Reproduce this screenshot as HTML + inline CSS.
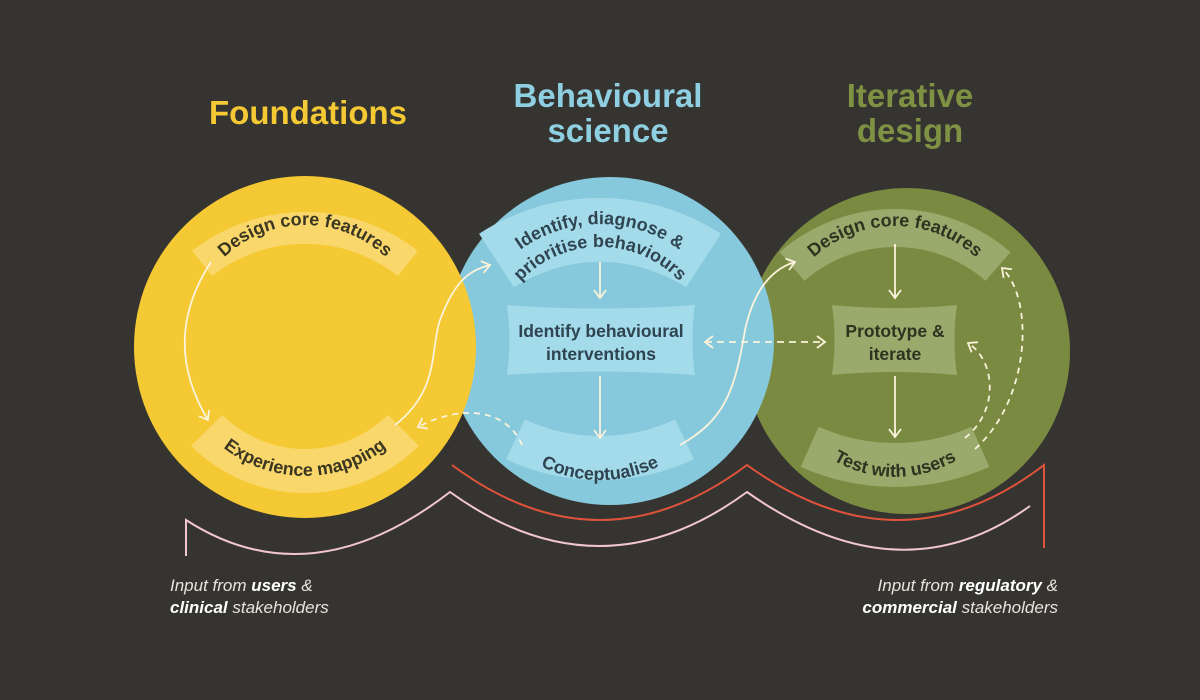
<!DOCTYPE html>
<html><head><meta charset="utf-8"><style>
html,body{margin:0;padding:0;background:#363431;}
svg{display:block}
text{font-family:"Liberation Sans",sans-serif;}
</style></head><body>
<svg width="1200" height="700" viewBox="0 0 1200 700" xmlns="http://www.w3.org/2000/svg">
<defs>
<marker id="ah" markerWidth="14" markerHeight="14" refX="10" refY="7" orient="auto" markerUnits="userSpaceOnUse">
<path d="M2,1 L10,7 L2,13" fill="none" stroke="#fbf3dc" stroke-width="1.8"/></marker>
<marker id="ahs" markerWidth="14" markerHeight="14" refX="4" refY="7" orient="auto" markerUnits="userSpaceOnUse">
<path d="M12,1 L4,7 L12,13" fill="none" stroke="#fbf3dc" stroke-width="1.8"/></marker>
<path id="yt" d="M199,292.5 A117,117 0 0 1 411,292.5"/>
<path id="yb" d="M185.4,399.8 A132,132 0 0 0 424.6,399.8"/>
<path id="bt1" d="M476.8,302.5 A136,136 0 0 1 723.2,302.5"/>
<path id="bt2" d="M501.2,309.9 A109,109 0 0 1 698.8,309.9"/>
<path id="bb" d="M479.5,403.3 A133,133 0 0 0 720.5,403.3"/>
<path id="gt" d="M786.3,295.2 A120,120 0 0 1 1003.7,295.2"/>
<path id="gb" d="M784.5,406.6 A122,122 0 0 0 1005.5,406.6"/>
</defs>
<rect width="1200" height="700" fill="#363431"/>
<!-- titles -->
<text x="308" y="124" font-size="33" font-weight="bold" fill="#f4c933" text-anchor="middle">Foundations</text>
<text x="608" y="107" font-size="33" font-weight="bold" fill="#8ecfe2" text-anchor="middle">Behavioural</text>
<text x="608" y="142" font-size="33" font-weight="bold" fill="#8ecfe2" text-anchor="middle">science</text>
<text x="910" y="107" font-size="33" font-weight="bold" fill="#7f9243" text-anchor="middle">Iterative</text>
<text x="910" y="142" font-size="33" font-weight="bold" fill="#7f9243" text-anchor="middle">design</text>
<!-- circles -->
<circle cx="907" cy="351" r="163" fill="#7a8a40"/>
<circle cx="610" cy="341" r="164" fill="#86c8dc"/>
<circle cx="305" cy="347" r="171" fill="#f4c933"/>
<!-- bands -->
<g fill="none" stroke-linecap="butt">
<path d="M202.1,263.4 A167,167 0 0 1 407.9,263.4" stroke="#f9d76a" stroke-width="32"/>
<path d="M206.7,430.3 A139,139 0 0 0 403.3,430.3" stroke="#f9d76a" stroke-width="44"/>
<path d="M496.5,260.6 A190,190 0 0 1 703.5,260.6" stroke="#a3dbea" stroke-width="64"/>
<path d="M515.5,439.3 A200,200 0 0 0 684.5,439.3" stroke="#a3dbea" stroke-width="44"/>
<path d="M792,266.5 A157,157 0 0 1 998,266.5" stroke="#9aa96c" stroke-width="38"/>
<path d="M809.6,446.8 A210,210 0 0 0 980.4,446.8" stroke="#9aa96c" stroke-width="44"/>
</g>
<!-- middle boxes -->
<path d="M507,305 Q601,312 695,305 Q690,340 695,375 Q601,368 507,375 Q512,340 507,305Z" fill="#a3dbea"/>
<path d="M832,305 Q895,311 957,305 Q952,340 957,375 Q895,369 832,375 Q837,340 832,305Z" fill="#9aa96c"/>
<!-- band texts -->
<g font-size="18" font-weight="bold" fill="#3b3622" text-anchor="middle">
<text><textPath href="#yt" startOffset="50%">Design core features</textPath></text>
<text><textPath href="#yb" startOffset="50%">Experience mapping</textPath></text>
<text fill="#2f4450"><textPath href="#bt1" startOffset="50%">Identify, diagnose &amp;</textPath></text>
<text fill="#2f4450"><textPath href="#bt2" startOffset="50%">prioritise behaviours</textPath></text>
<text fill="#2f4450"><textPath href="#bb" startOffset="50%">Conceptualise</textPath></text>
<text fill="#2e3320"><textPath href="#gt" startOffset="50%">Design core features</textPath></text>
<text fill="#2e3320"><textPath href="#gb" startOffset="50%">Test with users</textPath></text>
</g>
<text x="601" y="337" font-size="17.5" font-weight="bold" fill="#2f4450" text-anchor="middle">Identify behavioural</text>
<text x="601" y="360" font-size="17.5" font-weight="bold" fill="#2f4450" text-anchor="middle">interventions</text>
<text x="895" y="337" font-size="17.5" font-weight="bold" fill="#2e3320" text-anchor="middle">Prototype &amp;</text>
<text x="895" y="360" font-size="17.5" font-weight="bold" fill="#2e3320" text-anchor="middle">iterate</text>
<!-- arrows -->
<g fill="none" stroke="#fbf3dc" stroke-width="1.8">
<path d="M211,262 Q160,340 208,420" marker-end="url(#ah)"/>
<path d="M395,425 C440,390 430,350 440,320 C455,280 470,270 490,265" marker-end="url(#ah)"/>
<path d="M522,445 C510,415 470,400 418,427" stroke-dasharray="6,5" marker-end="url(#ah)"/>
<path d="M600,262 L600,298" marker-end="url(#ah)"/>
<path d="M600,376 L600,438" marker-end="url(#ah)"/>
<path d="M680,445 C725,420 735,390 745,330 C755,285 775,268 795,262" marker-end="url(#ah)"/>
<path d="M705,342 L825,342" stroke-dasharray="7,5" marker-end="url(#ah)" marker-start="url(#ahs)"/>
<path d="M895,244 L895,298" marker-end="url(#ah)"/>
<path d="M895,376 L895,437" marker-end="url(#ah)"/>
<path d="M965,438 C1000,410 995,360 968,343" stroke-dasharray="6,5" marker-end="url(#ah)"/>
<path d="M975,449 C1030,400 1035,300 1002,268" stroke-dasharray="6,5" marker-end="url(#ah)"/>
</g>
<!-- brackets -->
<path d="M186,556 L186,520 Q310,600 450,492 Q600,600 747,492 Q900,600 1030,506" fill="none" stroke="#f2c6cf" stroke-width="2"/>
<path d="M452,465 Q600,575 747,465 Q900,575 1044,465 L1044,548" fill="none" stroke="#e0533b" stroke-width="2"/>
<!-- captions -->
<g font-size="17" font-style="italic" fill="#e8e4dc">
<text x="170" y="591">Input from <tspan font-weight="bold" fill="#fff">users</tspan> &amp;</text>
<text x="170" y="613"><tspan font-weight="bold" fill="#fff">clinical</tspan> stakeholders</text>
<text x="1058" y="591" text-anchor="end">Input from <tspan font-weight="bold" fill="#fff">regulatory</tspan> &amp;</text>
<text x="1058" y="613" text-anchor="end"><tspan font-weight="bold" fill="#fff">commercial</tspan> stakeholders</text>
</g>
</svg>
</body></html>
